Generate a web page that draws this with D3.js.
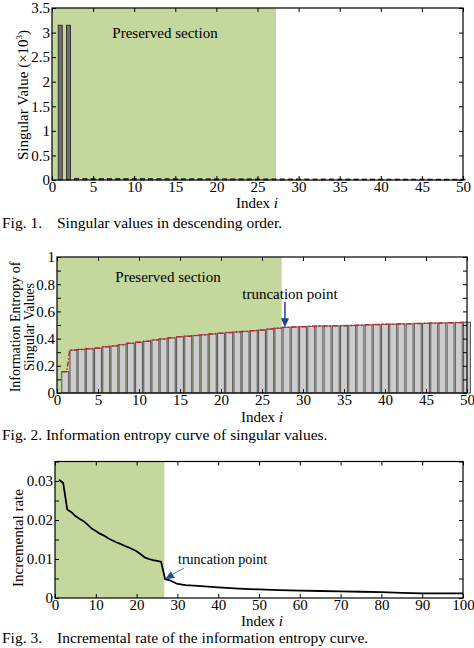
<!DOCTYPE html>
<html>
<head>
<meta charset="utf-8">
<script src="https://cdn.jsdelivr.net/npm/d3@7/dist/d3.min.js"></script>
<style>
  body { margin: 0; background: #fff; }
</style>
</head>
<body>
<svg id="chart" width="474" height="648"></svg>
<script>
// Fig. 1 - singular values (x10^3), index 1..50
var svIndex = d3.range(1, 51);
var svValue = [3.15, 3.15, 0.034, 0.033, 0.032, 0.031, 0.031, 0.030, 0.030, 0.029,
               0.029, 0.028, 0.028, 0.027, 0.027, 0.026, 0.026, 0.026, 0.025, 0.025,
               0.025, 0.024, 0.024, 0.024, 0.023, 0.023, 0.023, 0.022, 0.022, 0.022,
               0.021, 0.021, 0.021, 0.021, 0.020, 0.020, 0.020, 0.020, 0.019, 0.019,
               0.019, 0.019, 0.018, 0.018, 0.018, 0.018, 0.017, 0.017, 0.017, 0.017];

// Fig. 2 - information entropy of singular values, index 1..50
var entIndex = d3.range(1, 51);
var entValue = [0.157, 0.315, 0.320, 0.325, 0.330, 0.340, 0.345, 0.355, 0.365, 0.373,
                0.380, 0.390, 0.397, 0.405, 0.414, 0.418, 0.423, 0.428, 0.434, 0.439,
                0.444, 0.449, 0.453, 0.458, 0.463, 0.470, 0.476, 0.483, 0.486, 0.488,
                0.490, 0.492, 0.493, 0.494, 0.495, 0.497, 0.499, 0.501, 0.503, 0.505,
                0.506, 0.508, 0.509, 0.511, 0.512, 0.514, 0.515, 0.517, 0.518, 0.520];

// Fig. 3 - incremental rate of the entropy curve
var rateIndex = [1, 2, 3, 4, 5, 6, 7, 8, 9, 10, 11, 12, 13, 14, 15, 16, 17, 18, 19, 20,
                 21, 22, 23, 24, 25, 26, 27, 28, 29, 30, 32, 35, 40, 45, 50, 55, 60, 65,
                 70, 75, 80, 85, 90, 95, 100];
var rateValue = [0.0303, 0.0295, 0.0227, 0.0220, 0.0210, 0.0203, 0.0197, 0.0188, 0.0178, 0.0172,
                 0.0165, 0.0160, 0.0153, 0.0148, 0.0143, 0.0139, 0.0134, 0.0130, 0.0125, 0.0120,
                 0.0112, 0.0104, 0.0100, 0.0097, 0.0095, 0.0093, 0.0048, 0.0046, 0.0041, 0.0036,
                 0.0033, 0.0031, 0.0027, 0.0024, 0.0022, 0.0020, 0.0019, 0.0018,
                 0.0017, 0.0016, 0.0015, 0.0013, 0.0012, 0.0012, 0.0012];

var cut1 = 27.25, cut2 = 27.4, cut3 = 26.8;   // end of the preserved section
var trunc2 = 27.8, trunc3 = 27;

var captions = [
  ["Fig. 1.", "Singular values in descending order."],
  ["Fig. 2. Information entropy curve of singular values."],
  ["Fig. 3.", "Incremental rate of the information entropy curve."]
];

var serif = "'Liberation Serif', 'Times New Roman', 'DejaVu Serif', serif";
var green = "#c4d79c";
var svg = d3.select("#chart");

function frame(g, x, y, xt, yt, ytMinor, yfmt) {
    var w = x.range()[1] - x.range()[0];
    var h = y.range()[0] - y.range()[1];
    g.append("g").attr("transform", "translate(0," + y.range()[0] + ")")
        .call(d3.axisBottom(x).tickValues(xt).tickSizeInner(-4).tickSizeOuter(0).tickPadding(1))
        .call(function(a) { a.select(".domain").remove(); });
    g.append("g").attr("transform", "translate(0," + y.range()[1] + ")")
        .call(d3.axisTop(x).tickValues(xt).tickSizeInner(-4).tickSizeOuter(0).tickFormat(""))
        .call(function(a) { a.select(".domain").remove(); });
    g.append("g").attr("transform", "translate(" + x.range()[0] + ",0)")
        .call(d3.axisLeft(y).tickValues(ytMinor).tickSizeInner(-4).tickSizeOuter(0).tickFormat(""))
        .call(function(a) { a.select(".domain").remove(); });
    g.append("g").attr("transform", "translate(" + x.range()[0] + ",0)")
        .call(d3.axisLeft(y).tickValues(yt).tickSizeInner(0).tickSizeOuter(0).tickPadding(2).tickFormat(yfmt))
        .call(function(a) { a.select(".domain").remove(); });
    g.append("g").attr("transform", "translate(" + x.range()[1] + ",0)")
        .call(d3.axisRight(y).tickValues(ytMinor).tickSizeInner(-4).tickSizeOuter(0).tickFormat(""))
        .call(function(a) { a.select(".domain").remove(); });
    g.append("rect")
        .attr("x", x.range()[0]).attr("y", y.range()[1])
        .attr("width", w).attr("height", h)
        .attr("fill", "none").attr("stroke", "#000").attr("stroke-width", 1.2);
    g.selectAll(".tick text").attr("font-size", 15);
    g.selectAll(".tick line").attr("stroke", "#000");
}

function indexLabel(g, cx, cy) {
    var t = g.append("text").attr("x", cx).attr("y", cy).attr("text-anchor", "middle").attr("font-size", 15);
    t.append("tspan").text("Index ");
    t.append("tspan").attr("font-style", "italic").text("i");
}

function caption(lines, y) {
    var t = svg.append("text").attr("y", y).attr("font-size", 15.5);
    t.append("tspan").attr("x", 2).text(lines[0]);
    if (lines[1]) t.append("tspan").attr("x", 57).text(lines[1]);
}

// ---------- Fig. 1 ----------
var g1 = svg.append("g");
var x1 = d3.scaleLinear().domain([0, 50]).range([52, 463]);
var y1 = d3.scaleLinear().domain([0, 3.5]).range([180, 8]);

g1.append("rect").attr("x", x1(0)).attr("y", y1(3.5))
    .attr("width", x1(cut1) - x1(0)).attr("height", y1(0) - y1(3.5)).attr("fill", green);

g1.selectAll(".bar").data(svValue).enter().append("rect")
    .attr("class", "bar")
    .attr("x", function(d, i) { return x1(svIndex[i] - 0.25); })
    .attr("width", x1(0.5) - x1(0))
    .attr("y", function(d) { return y1(d); })
    .attr("height", function(d) { return y1(0) - y1(d); })
    .attr("fill", "#6f6f6f").attr("stroke", "#222").attr("stroke-width", 0.8);

g1.append("text").attr("x", 165).attr("y", 38).attr("text-anchor", "middle")
    .attr("font-size", 15).text("Preserved section");

frame(g1, x1, y1, d3.range(0, 51, 5), d3.range(0, 3.51, 0.5), d3.range(0, 3.51, 0.5), d3.format("~g"));

var yl1 = g1.append("text").attr("transform", "translate(28,95) rotate(-90)")
    .attr("text-anchor", "middle").attr("font-size", 15);
yl1.append("tspan").text("Singular Value  (\u00d710");
yl1.append("tspan").attr("dy", -6).attr("font-size", 9).text("3");
yl1.append("tspan").attr("dy", 6).text(")");
indexLabel(g1, 257, 208);
caption(captions[0], 228);

// ---------- Fig. 2 ----------
var g2 = svg.append("g");
var x2 = d3.scaleLinear().domain([0, 50]).range([57, 467]);
var y2 = d3.scaleLinear().domain([0, 1]).range([393, 257]);

g2.append("rect").attr("x", x2(0)).attr("y", y2(1))
    .attr("width", x2(cut2) - x2(0)).attr("height", y2(0) - y2(1)).attr("fill", green);

g2.selectAll(".bar").data(entValue).enter().append("rect")
    .attr("class", "bar")
    .attr("x", function(d, i) { return x2(entIndex[i] - 0.42); })
    .attr("width", x2(0.84) - x2(0))
    .attr("y", function(d) { return y2(d); })
    .attr("height", function(d) { return y2(0) - y2(d); })
    .attr("fill", "#cdcdcd").attr("stroke", "#5e5e5e").attr("stroke-width", 1.1);

var entPts = [];
entValue.forEach(function(v, i) {
    entPts.push([entIndex[i] - 0.45, v]);
    entPts.push([entIndex[i] + 0.2, v]);
});
g2.append("path").datum(entPts)
    .attr("d", d3.line().x(function(d) { return x2(d[0]); }).y(function(d) { return y2(d[1]); }))
    .attr("fill", "none").attr("stroke", "#c8242a").attr("stroke-width", 1.5)
    .attr("stroke-dasharray", "5,2,1.5,2");

g2.append("text").attr("x", 168).attr("y", 282).attr("text-anchor", "middle")
    .attr("font-size", 15).text("Preserved section");

var tIdx = entIndex.indexOf(Math.round(trunc2));
g2.append("text").attr("x", 290).attr("y", 299).attr("text-anchor", "middle")
    .attr("font-size", 15).text("truncation point");
g2.append("line").attr("x1", x2(trunc2)).attr("x2", x2(trunc2))
    .attr("y1", 302).attr("y2", y2(entValue[tIdx]) - 8)
    .attr("stroke", "#1f3f8f").attr("stroke-width", 1.5);
g2.append("path")
    .attr("d", "M" + (x2(trunc2) - 4) + "," + (y2(entValue[tIdx]) - 9) + "L" + (x2(trunc2) + 4) + "," + (y2(entValue[tIdx]) - 9) +
               "L" + x2(trunc2) + "," + y2(entValue[tIdx]) + "Z")
    .attr("fill", "#1f3f8f");

frame(g2, x2, y2, d3.range(0, 51, 5), d3.range(0, 1.01, 0.2), d3.range(0, 1.01, 0.1), d3.format("~g"));

var yl2 = g2.append("text").attr("transform", "translate(0,327) rotate(-90)")
    .attr("text-anchor", "middle").attr("font-size", 14);
yl2.append("tspan").attr("x", 0).attr("y", 20).text("Information Entropy of");
yl2.append("tspan").attr("x", 0).attr("y", 34).text("Singular Values");
indexLabel(g2, 262, 422);
caption(captions[1], 440);

// ---------- Fig. 3 ----------
var g3 = svg.append("g");
var x3 = d3.scaleLinear().domain([0, 100]).range([55, 463]);
var y3 = d3.scaleLinear().domain([0, 0.035]).range([598, 461.5]);

g3.append("rect").attr("x", x3(0)).attr("y", y3(0.035))
    .attr("width", x3(cut3) - x3(0)).attr("height", y3(0) - y3(0.035)).attr("fill", green);

g3.append("path").datum(rateValue)
    .attr("d", d3.line().x(function(d, i) { return x3(rateIndex[i]); }).y(function(d) { return y3(d); }))
    .attr("fill", "none").attr("stroke", "#000").attr("stroke-width", 1.8);

var rIdx = rateIndex.indexOf(trunc3);
var tipX = x3(rateIndex[rIdx]), tipY = y3(rateValue[rIdx]);
g3.append("text").attr("x", 178).attr("y", 564).attr("font-size", 14).text("truncation point");
g3.append("line").attr("x1", 184).attr("y1", 568).attr("x2", tipX + 5).attr("y2", tipY - 3.5)
    .attr("stroke", "#3b6db3").attr("stroke-width", 0.9);
var ang = Math.atan2(tipY - 568, tipX - 184);
var hl = 9, hw = 4;
var bx = tipX - hl * Math.cos(ang), by = tipY - hl * Math.sin(ang);
g3.append("path")
    .attr("d", "M" + tipX + "," + tipY +
               "L" + (bx - hw * Math.sin(ang)) + "," + (by + hw * Math.cos(ang)) +
               "L" + (bx + hw * Math.sin(ang)) + "," + (by - hw * Math.cos(ang)) + "Z")
    .attr("fill", "#1f4f9f");

frame(g3, x3, y3, d3.range(0, 101, 10), [0, 0.01, 0.02, 0.03], d3.range(0, 0.0351, 0.005), d3.format("~g"));

g3.append("text").attr("transform", "translate(23,538) rotate(-90)")
    .attr("text-anchor", "middle").attr("font-size", 15).text("Incremental rate");
indexLabel(g3, 262, 626);
caption(captions[2], 643);

// serif everywhere (axis groups default to sans-serif)
svg.selectAll("text").attr("font-family", serif).attr("fill", "#000");
svg.selectAll("g").attr("font-family", serif);
</script>
</body>
</html>
